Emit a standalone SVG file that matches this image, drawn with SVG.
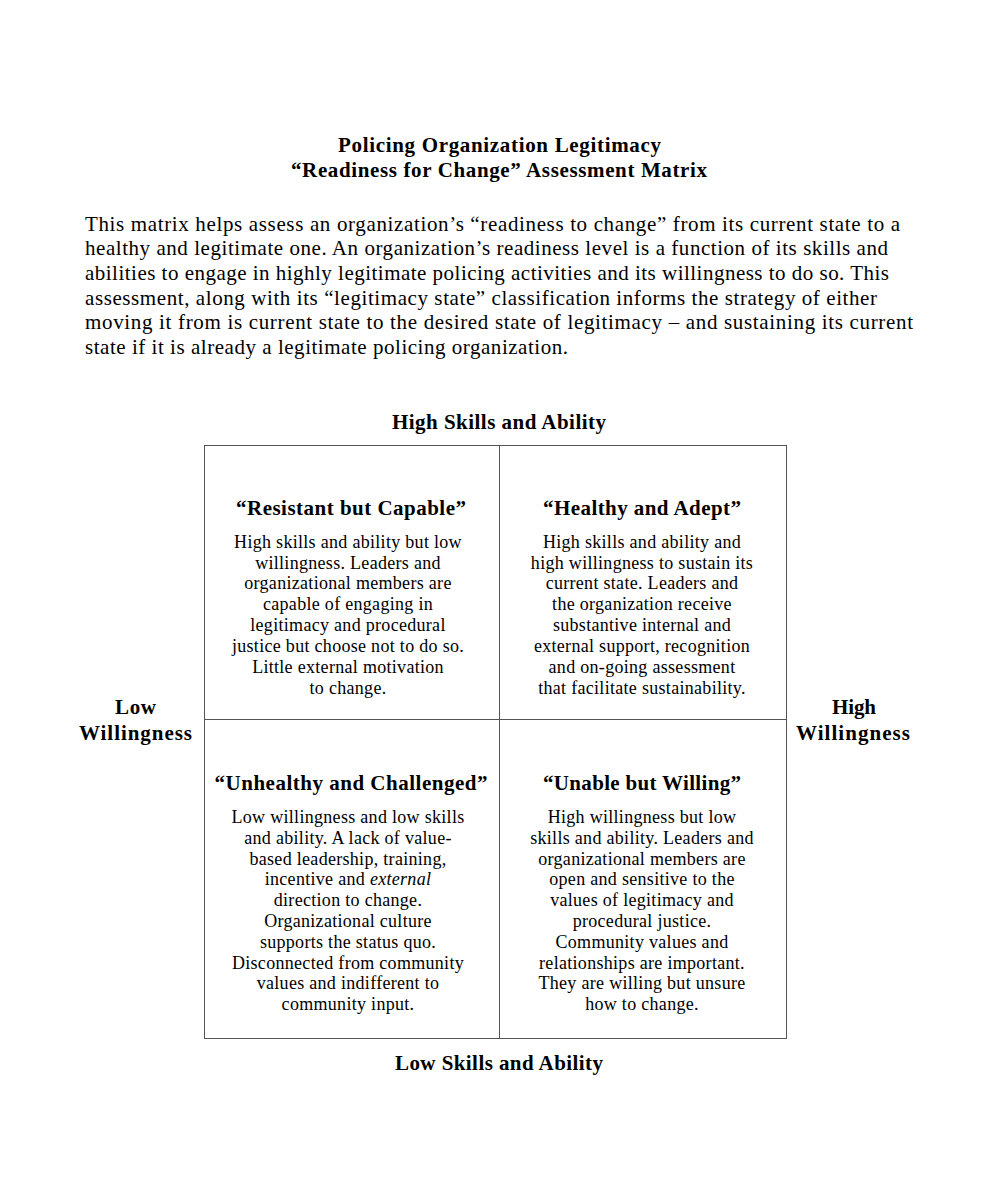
<svg xmlns="http://www.w3.org/2000/svg" width="994" height="1200" viewBox="0 0 994 1200">
<style>
text{font-family:"Liberation Serif","Times New Roman",serif;fill:#000}
.h{font-weight:bold;font-size:21px;text-anchor:middle}
.p{font-size:21px}
.ax{font-weight:bold;font-size:21px;text-anchor:middle}
.qt{font-weight:bold;font-size:21px;text-anchor:middle}
.qb{font-size:18px;letter-spacing:0.3px;text-anchor:middle}
.grid{fill:none;stroke:#555;stroke-width:1}
</style>
<rect width="994" height="1200" fill="#fff"/>
<g id="title">
<text class="h" x="499.5" y="152" textLength="323">Policing Organization Legitimacy</text>
<text class="h" x="499" y="177" textLength="416">“Readiness for Change” Assessment Matrix</text>
</g>
<g id="intro">
<text class="p" x="85" y="231" textLength="815">This matrix helps assess an organization’s “readiness to change” from its current state to a</text>
<text class="p" x="85" y="255" textLength="803">healthy and legitimate one. An organization’s readiness level is a function of its skills and</text>
<text class="p" x="85" y="280" textLength="804">abilities to engage in highly legitimate policing activities and its willingness to do so. This</text>
<text class="p" x="85" y="305" textLength="792">assessment, along with its “legitimacy state” classification informs the strategy of either</text>
<text class="p" x="85" y="329" textLength="828">moving it from is current state to the desired state of legitimacy – and sustaining its current</text>
<text class="p" x="85" y="354" textLength="483">state if it is already a legitimate policing organization.</text>
</g>
<g id="connectors">
<rect class="grid" x="204.5" y="445.5" width="582" height="593"/>
<line class="grid" x1="499.5" y1="445.5" x2="499.5" y2="1038.5"/>
<line class="grid" x1="204.5" y1="719.5" x2="786.5" y2="719.5"/>
</g>
<g id="axis-top"><text class="ax" x="499" y="429" textLength="214">High Skills and Ability</text></g>
<g id="axis-bottom"><text class="ax" x="499" y="1070" textLength="208">Low Skills and Ability</text></g>
<g id="axis-left"><text class="ax" x="135.5" y="714" textLength="41">Low</text><text class="ax" x="135.5" y="740" textLength="113">Willingness</text></g>
<g id="axis-right"><text class="ax" x="854" y="714" textLength="44">High</text><text class="ax" x="853" y="740" textLength="114">Willingness</text></g>
<g id="q-resistant">
<text class="qt" x="351" y="515" textLength="230">“Resistant but Capable”</text>
<text class="qb" x="348" y="548">High skills and ability but low</text>
<text class="qb" x="348" y="569">willingness. Leaders and</text>
<text class="qb" x="348" y="589">organizational members are</text>
<text class="qb" x="348" y="610">capable of engaging in</text>
<text class="qb" x="348" y="631">legitimacy and procedural</text>
<text class="qb" x="348" y="652">justice but choose not to do so.</text>
<text class="qb" x="348" y="673">Little external motivation</text>
<text class="qb" x="348" y="694">to change.</text>
</g>
<g id="q-healthy">
<text class="qt" x="642" y="515" textLength="198">“Healthy and Adept”</text>
<text class="qb" x="642" y="548">High skills and ability and</text>
<text class="qb" x="642" y="569">high willingness to sustain its</text>
<text class="qb" x="642" y="589">current state. Leaders and</text>
<text class="qb" x="642" y="610">the organization receive</text>
<text class="qb" x="642" y="631">substantive internal and</text>
<text class="qb" x="642" y="652">external support, recognition</text>
<text class="qb" x="642" y="673">and on-going assessment</text>
<text class="qb" x="642" y="694">that facilitate sustainability.</text>
</g>
<g id="q-unhealthy">
<text class="qt" x="351" y="790" textLength="273">“Unhealthy and Challenged”</text>
<text class="qb" x="348" y="823">Low willingness and low skills</text>
<text class="qb" x="348" y="844">and ability. A lack of value-</text>
<text class="qb" x="348" y="865">based leadership, training,</text>
<text class="qb" x="348" y="885">incentive and <tspan font-style="italic">external</tspan></text>
<text class="qb" x="348" y="906">direction to change.</text>
<text class="qb" x="348" y="927">Organizational culture</text>
<text class="qb" x="348" y="948">supports the status quo.</text>
<text class="qb" x="348" y="969">Disconnected from community</text>
<text class="qb" x="348" y="989">values and indifferent to</text>
<text class="qb" x="348" y="1010">community input.</text>
</g>
<g id="q-unable">
<text class="qt" x="642" y="790" textLength="198">“Unable but Willing”</text>
<text class="qb" x="642" y="823">High willingness but low</text>
<text class="qb" x="642" y="844">skills and ability. Leaders and</text>
<text class="qb" x="642" y="865">organizational members are</text>
<text class="qb" x="642" y="885">open and sensitive to the</text>
<text class="qb" x="642" y="906">values of legitimacy and</text>
<text class="qb" x="642" y="927">procedural justice.</text>
<text class="qb" x="642" y="948">Community values and</text>
<text class="qb" x="642" y="969">relationships are important.</text>
<text class="qb" x="642" y="989">They are willing but unsure</text>
<text class="qb" x="642" y="1010">how to change.</text>
</g>
</svg>
